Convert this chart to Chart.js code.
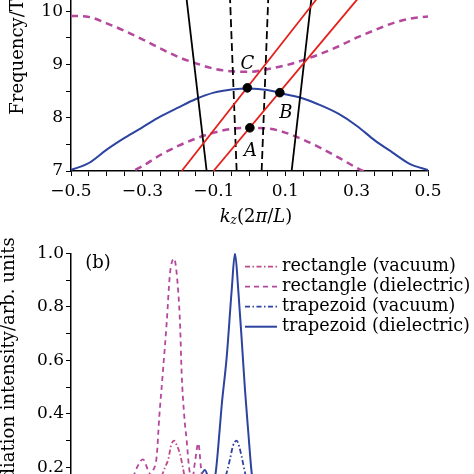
<!DOCTYPE html>
<html><head><meta charset="utf-8">
<script src="https://cdn.jsdelivr.net/npm/chart.js@4.4.0/dist/chart.umd.min.js"></script>
<style>
html,body{margin:0;padding:0;background:#fff;overflow:hidden;width:474px;height:474px;}
#wrapA{position:absolute;left:0;top:-100px;width:474px;height:340px;}
#wrapB{position:absolute;left:0;top:230px;width:474px;height:330px;}
</style></head><body>
<div id="wrapA"><canvas id="cA"></canvas></div>
<div id="wrapB"><canvas id="cB"></canvas></div>
<script>
// ---------- panel (a): dispersion ----------
const bandKz = [-0.5,-0.45,-0.4,-0.35,-0.3,-0.25,-0.2,-0.15,-0.1,-0.05,0,0.05,0.1,0.15,0.2,0.25,0.3,0.35,0.4,0.45,0.5];
const lowerBand = [7.02,7.15,7.40,7.62,7.82,8.02,8.19,8.35,8.47,8.53,8.55,8.52,8.44,8.36,8.23,8.07,7.85,7.58,7.35,7.13,7.02];
const upperBand = [9.91,9.89,9.77,9.63,9.47,9.30,9.14,9.02,8.92,8.87,8.86,8.91,8.98,9.08,9.20,9.34,9.50,9.64,9.77,9.86,9.90];
const midKz = [-0.35,-0.3,-0.25,-0.2,-0.15,-0.1,-0.05,0,0.05,0.1,0.15,0.2,0.25,0.3,0.35];
const midBand = [6.92,7.09,7.30,7.47,7.61,7.72,7.79,7.81,7.80,7.72,7.59,7.43,7.25,7.06,6.90];
const lineF = [7.0, 10.5];
const lightKzL = [-0.12, -0.181];
const lightKzR = [0.118, 0.178];
const dashKzL = [-0.036, -0.056];
const dashKzR = [0.034, 0.054];
const beamKz1 = [-0.19, 0.22];
const beamKz2 = [-0.101, 0.337];
const pointNames = ['A','B','C'];
const pointKz = [0.001, 0.085, -0.006];
const pointF = [7.81, 8.47, 8.56];
const labelKz = [0.003, 0.102, -0.006];
const labelF = [7.36, 8.08, 9.01];
const kzTickLabels = [-0.5,-0.3,-0.1,0.1,0.3,0.5];
const freqTickLabels = [7,8,9,10,11];

// ---------- panel (b): radiation spectra ----------
const seriesNames = ['rectangle (vacuum)','rectangle (dielectric)','trapezoid (vacuum)','trapezoid (dielectric)'];
const rectVacX = [7.244,7.664,7.748,7.790,7.818,7.840,7.866,7.891,7.916,7.944,7.975,8.017,8.084,8.336];
const rectVacY = [0.01,0.08,0.15,0.20,0.23,0.28,0.30,0.28,0.25,0.19,0.12,0.08,0.06,0.02];
const rectDielX = [7.244,7.454,7.555,7.605,7.647,7.672,7.692,7.720,7.742,7.771,7.804,7.832,7.866,7.888,7.916,7.930,7.952,7.972,7.992,8.017,8.042,8.070,8.092,8.118,8.210,8.588];
const rectDielY = [0.02,0.08,0.20,0.23,0.19,0.17,0.19,0.24,0.39,0.55,0.74,0.925,0.98,0.925,0.74,0.55,0.39,0.30,0.20,0.15,0.22,0.29,0.20,0.12,0.05,0.02];
const trapVacX = [8.168,8.252,8.308,8.336,8.361,8.392,8.412,8.434,8.462,8.504,8.588];
const trapVacY = [0.06,0.10,0.18,0.23,0.28,0.30,0.28,0.24,0.18,0.11,0.05];
const trapDielX = [7.916,8.042,8.084,8.126,8.160,8.189,8.216,8.238,8.266,8.308,8.350,8.378,8.406,8.434,8.462,8.490,8.518,8.546,8.605,8.756];
const trapDielY = [0.03,0.10,0.16,0.19,0.15,0.13,0.18,0.28,0.43,0.61,0.86,1.00,0.86,0.68,0.49,0.33,0.18,0.10,0.08,0.03];
const intensityTickLabels = [0,0.2,0.4,0.6,0.8,1.0];

const PINK = '#b4489c', PINK2 = '#c04a88', BLUE = '#2d43a0', RED = '#e3201b';
const SERIF = '"DejaVu Serif", serif';
const zip = (xs, ys) => xs.map((x, i) => ({x, y: ys[i]}));
const fmt = (v) => v.toFixed(1).replace('-', '\u2212');
const pickLabel = (list, v, digits) => {
  const hit = list.find(t => Math.abs(t - v) < 1e-6);
  return hit === undefined ? '' : (digits ? fmt(hit) : String(hit));
};

const axisCommon = (extra) => Object.assign({
  type: 'linear',
  grid: {drawOnChartArea: false, drawTicks: true, tickLength: 5, color: '#000', lineWidth: 1},
  border: {display: true, color: '#000', width: 1.5},
}, extra);

const plotAnnot = {
  id: 'plotAnnot',
  afterDraw(chart) {
    const {ctx} = chart;
    const xs = chart.scales.x, ys = chart.scales.y;
    ctx.save();
    ctx.fillStyle = '#000';
    ctx.textAlign = 'center';
    ctx.textBaseline = 'middle';
    ctx.font = 'italic 18px ' + SERIF;
    pointNames.forEach((n, i) => {
      ctx.fillText(n, xs.getPixelForValue(labelKz[i]), ys.getPixelForValue(labelF[i]));
    });
    // x-axis title k_z(2pi/L)
    const parts = [
      {t: 'k', f: 'italic 18px ' + SERIF, dy: 0},
      {t: 'z', f: 'italic 12px ' + SERIF, dy: 4},
      {t: '(2', f: '18px ' + SERIF, dy: 0},
      {t: '\u03c0', f: 'italic 18px ' + SERIF, dy: 0},
      {t: '/', f: '18px ' + SERIF, dy: 0},
      {t: 'L', f: 'italic 18px ' + SERIF, dy: 0},
      {t: ')', f: '18px ' + SERIF, dy: 0},
    ];
    let total = 0;
    parts.forEach(p => { ctx.font = p.f; p.w = ctx.measureText(p.t).width; total += p.w; });
    const cx = (xs.left + xs.right) / 2 + 6.5;
    let x = cx - total / 2;
    const y = xs.bottom - 69 + 46;
    ctx.textAlign = 'left';
    parts.forEach(p => { ctx.font = p.f; ctx.fillText(p.t, x, y + p.dy); x += p.w; });
    ctx.restore();
  }
};

new Chart(document.getElementById('cA'), {
  type: 'line',
  data: {
    datasets: [
      {data: zip(bandKz, upperBand), borderColor: PINK, borderWidth: 2.5, borderDash: [7,5], cubicInterpolationMode: 'monotone', order: 5},
      {data: zip(midKz, midBand), borderColor: PINK, borderWidth: 2.5, borderDash: [7,5], cubicInterpolationMode: 'monotone', order: 5},
      {data: zip(bandKz, lowerBand), borderColor: BLUE, borderWidth: 2, cubicInterpolationMode: 'monotone', order: 4},
      {data: zip(lightKzL, lineF), borderColor: '#000', borderWidth: 1.8, order: 3},
      {data: zip(lightKzR, lineF), borderColor: '#000', borderWidth: 1.8, order: 3},
      {data: zip(dashKzL, lineF), borderColor: '#000', borderWidth: 1.8, borderDash: [8,4], order: 3},
      {data: zip(dashKzR, lineF), borderColor: '#000', borderWidth: 1.8, borderDash: [8,4], order: 3},
      {data: zip(beamKz1, lineF), borderColor: RED, borderWidth: 1.8, order: 2},
      {data: zip(beamKz2, lineF), borderColor: RED, borderWidth: 1.8, order: 2},
      {type: 'scatter', data: zip(pointKz, pointF), showLine: false, pointRadius: 4.3, order: 0,
       borderColor: '#000', backgroundColor: '#000', pointBorderWidth: 1,
       pointBackgroundColor: '#000', pointBorderColor: '#000'},
    ]
  },
  options: {
    responsive: true, maintainAspectRatio: false, animation: false,
    layout: {padding: {left: 0, right: 46, top: 17.8, bottom: 0}},
    plugins: {legend: {display: false}, tooltip: {enabled: false}},
    elements: {point: {radius: 0}, line: {fill: false}},
    scales: {
      x: axisCommon({
        min: -0.5, max: 0.5,
        afterFit: s => { s.height = 69; },
        ticks: {stepSize: 0.05, autoSkip: false, maxRotation: 0, color: '#000', padding: 5,
                font: {family: SERIF, size: 17},
                callback: v => pickLabel(kzTickLabels, Math.round(v * 100) / 100, true)}
      }),
      y: axisCommon({
        min: 7, max: 11.75,
        afterFit: s => { s.width = 71; },
        ticks: {stepSize: 0.5, autoSkip: false, color: '#000', padding: 3,
                font: {family: SERIF, size: 17},
                callback: v => pickLabel(freqTickLabels, Math.round(v * 100) / 100, false)},
        title: {display: true, text: 'Frequency/THz', color: '#000',
                font: {family: SERIF, size: 18}, padding: {top: 8, bottom: 0}}
      })
    }
  },
  plugins: [plotAnnot]
});

const specAnnot = {
  id: 'specAnnot',
  afterDraw(chart) {
    const {ctx, chartArea} = chart;
    ctx.save();
    ctx.fillStyle = '#000';
    ctx.font = '18px ' + SERIF;
    ctx.textBaseline = 'middle';
    ctx.textAlign = 'center';
    ctx.fillText('(b)', chartArea.left + 27, chartArea.top + 9.7);
    // y title
    ctx.save();
    ctx.translate(9, chartArea.top - 16);
    ctx.rotate(-Math.PI / 2);
    ctx.textAlign = 'right';
    ctx.fillText('Radiation intensity/arb. units', 0, 0);
    ctx.restore();
    // legend
    const x0 = chartArea.left + 174, x1 = chartArea.left + 206, tx = chartArea.left + 211;
    let y = chartArea.top + 13.4;
    ctx.font = '17.6px ' + SERIF;
    ctx.textAlign = 'left';
    chart.data.datasets.forEach(ds => {
      ctx.save();
      ctx.strokeStyle = ds.borderColor; ctx.lineWidth = ds.borderWidth;
      ctx.setLineDash(ds.borderDash || []);
      ctx.beginPath(); ctx.moveTo(x0, y); ctx.lineTo(x1, y); ctx.stroke();
      ctx.restore();
      ctx.fillText(ds.label, tx, y);
      y += 20;
    });
    ctx.restore();
  }
};

new Chart(document.getElementById('cB'), {
  type: 'line',
  data: {
    datasets: [
      {label: seriesNames[0], data: zip(rectVacX, rectVacY), borderColor: PINK2, borderWidth: 1.8, borderDash: [5,2.5,1.5,2.5], cubicInterpolationMode: 'monotone'},
      {label: seriesNames[1], data: zip(rectDielX, rectDielY), borderColor: PINK, borderWidth: 1.8, borderDash: [5,4], cubicInterpolationMode: 'monotone'},
      {label: seriesNames[2], data: zip(trapVacX, trapVacY), borderColor: BLUE, borderWidth: 1.8, borderDash: [5,2.5,1.5,2.5], cubicInterpolationMode: 'monotone'},
      {label: seriesNames[3], data: zip(trapDielX, trapDielY), borderColor: BLUE, borderWidth: 2, cubicInterpolationMode: 'monotone'},
    ]
  },
  options: {
    responsive: true, maintainAspectRatio: false, animation: false,
    layout: {padding: {left: 0, right: 46, top: 23.3, bottom: 0}},
    plugins: {legend: {display: false}, tooltip: {enabled: false}},
    elements: {point: {radius: 0}, line: {fill: false}},
    scales: {
      x: axisCommon({
        min: 7, max: 10,
        afterFit: s => { s.height = 39.2; },
        ticks: {display: false, stepSize: 0.5}
      }),
      y: axisCommon({
        min: 0, max: 1,
        afterFit: s => { s.width = 71; },
        ticks: {stepSize: 0.1, autoSkip: false, color: '#000', padding: 2,
                font: {family: SERIF, size: 17},
                callback: v => pickLabel(intensityTickLabels, Math.round(v * 100) / 100, true)}
      })
    }
  },
  plugins: [specAnnot]
});
</script>
</body></html>
